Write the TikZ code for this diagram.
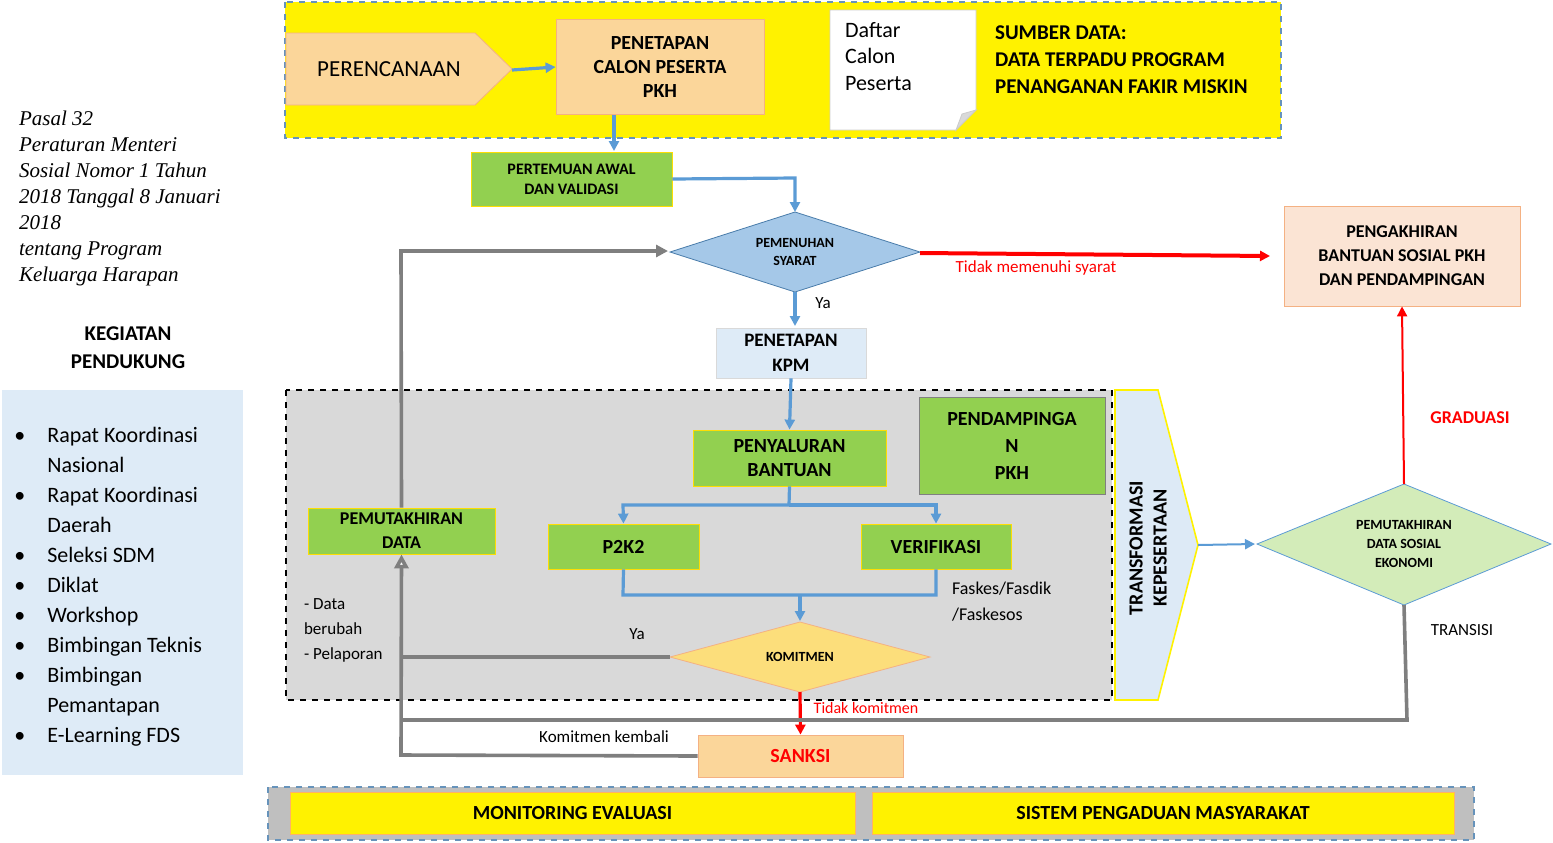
\documentclass[tikz,border=0pt]{standalone}
\usepackage{fontspec}
\setmainfont{Carlito}
\newfontfamily\serifit{Liberation Serif}
\usetikzlibrary{arrows.meta,shapes.geometric}
\definecolor{grn}{HTML}{92D050}
\definecolor{org}{HTML}{FBD69A}
\definecolor{orgb}{HTML}{F4B183}
\definecolor{lblue}{HTML}{DEEBF7}
\definecolor{arrb}{HTML}{5B9BD5}
\definecolor{gline}{HTML}{7F7F7F}
\begin{document}
\begin{tikzpicture}[x=0.5pt,y=-0.5pt,
  box/.style={draw,align=center,inner sep=1pt,font=\bfseries\fontsize{10}{12}\selectfont},
  gbox/.style={box,fill=grn,draw=yellow!80!orange},
  barr/.style={draw=arrb,line width=1.6pt,-{Triangle[length=5pt,width=5pt]}},
  gar/.style={draw=gline,line width=1.8pt},
  rar/.style={draw=red,line width=1.6pt,-{Triangle[length=5pt,width=5pt]}}]
\useasboundingbox (0,0) rectangle (1553,842);
% top panel
\draw[fill=yellow,draw=arrb!70!gray,dashed,line width=0.8pt] (285,2) rectangle (1281,138);
\draw[fill=org,draw=orgb] (286,33) -- (475,33) -- (512,69) -- (475,105) -- (286,105) -- cycle;
\node[font=\fontsize{11.5}{13}\selectfont] (plan) at (389,69) {PERENCANAAN};
\node[box,fill=org,draw=orgb,minimum width=104pt,minimum height=47.5pt] (calon) at (660,67) {PENETAPAN\\CALON PESERTA\\PKH};
\draw[barr] (512,70) -- (calon.west);
\draw[fill=white,draw=gray!40] (830,10) -- (976,10) -- (976,110) -- (956,130) -- (830,130) -- cycle;
\draw[fill=gray!30,draw=gray!40] (956,130) -- (962,114) -- (976,110) -- cycle;
\node[align=left,font=\fontsize{11}{13.3}\selectfont,anchor=north west] (daftar) at (838,15) {Daftar\\Calon\\Peserta};
\node[align=left,anchor=west,font=\bfseries\fontsize{10.5}{13.5}\selectfont] (sumber) at (988,60) {SUMBER DATA:\\DATA TERPADU PROGRAM\\PENANGANAN FAKIR MISKIN};
% pertemuan
\node[gbox,minimum width=100.5pt,minimum height=27pt,font=\bfseries\fontsize{8}{10}\selectfont] (pert) at (571.5,179) {PERTEMUAN AWAL\\DAN VALIDASI};
\draw[barr] (614,115) -- (614,151);
% diamond pemenuhan
\draw[fill=blue!35!cyan!30!white,fill=arrb!55!white,draw=arrb!80!black] (670,252) -- (795,212) -- (920,252) -- (795,292) -- cycle;
\node[font=\bfseries\fontsize{7}{9}\selectfont,align=center] (syarat) at (795,252) {PEMENUHAN\\SYARAT};
\draw[barr] (pert.east) -- (795,178) -- (795,212);
\node[box,fill=orgb!35!white,draw=orgb,font=\bfseries\fontsize{9}{12}\selectfont,minimum width=118pt,minimum height=50pt] (akhir) at (1402,256) {PENGAKHIRAN\\BANTUAN SOSIAL PKH\\DAN PENDAMPINGAN};
\draw[rar,line width=2pt] (920,253) -- (1270,256);
\node[red,font=\fontsize{8.5}{10}\selectfont] (tms) at (1036,268) {Tidak memenuhi syarat};
\node[box,fill=lblue,draw=gray!30,minimum width=75pt,minimum height=25pt,font=\bfseries\fontsize{9.5}{12.5}\selectfont] (kpm) at (791,353) {PENETAPAN\\KPM};
\draw[barr] (795,292) -- (795,326);
\node[font=\fontsize{8.5}{10}\selectfont] (ya1) at (823,303) {Ya};
% gray area
\draw[fill=gray!30,dashed,line width=1.2pt] (286,390) rectangle (1112,700);
\node[gbox,minimum width=96.5pt,minimum height=28pt] (salur) at (789.5,458) {PENYALURAN\\BANTUAN};
\draw[barr] (kpm.south) -- (salur.north);
\node[gbox,draw=gray,minimum width=93pt,minimum height=48.5pt,font=\fontsize{10}{13.5}\selectfont\bfseries] (damp) at (1012,445.5) {PENDAMPINGA\\N\\PKH};
\node[gbox,minimum width=75.5pt,minimum height=22.5pt] (p2k2) at (623.5,546.5) {P2K2};
\node[gbox,minimum width=75pt,minimum height=22.5pt] (verif) at (936,546.5) {VERIFIKASI};
\draw[draw=arrb,line width=1.6pt] (salur.south) -- (789,505);
\draw[barr] (789,505) -- (623,505) -- (p2k2.north);
\draw[barr] (789,505) -- (936,505) -- (verif.north);
\draw[draw=arrb,line width=1.6pt] (p2k2.south) -- (623,595) -- (936,595) -- (verif.south);
\draw[fill=yellow!50!orange!40!white,fill=org!80!yellow,draw=orgb] (670,657) -- (800,622) -- (930,657) -- (800,692) -- cycle;
\node[font=\bfseries\fontsize{7}{9}\selectfont] (komit) at (800,657) {KOMITMEN};
\draw[barr] (800,595) -- (800,621);
\node[align=left,anchor=north west,font=\fontsize{9}{13}\selectfont] (fask) at (945,575) {Faskes/Fasdik\\/Faskesos};
\node[gbox,minimum width=93.5pt,minimum height=23pt,font=\bfseries\fontsize{9}{12}\selectfont] (mutak) at (401.5,531) {PEMUTAKHIRAN\\DATA};
\node[align=left,anchor=north west,font=\fontsize{8.5}{12.5}\selectfont] (berubah) at (297,592) {- Data\\berubah\\- Pelaporan};
\node[font=\fontsize{8.5}{10}\selectfont] (ya2) at (637,634) {Ya};
% sanksi
\node[box,fill=org,draw=orgb,text=red,minimum width=102.5pt,minimum height=21pt] (sanksi) at (800.5,756) {SANKSI};
\draw[rar] (800,692) -- (sanksi.north);
\node[red,font=\fontsize{8}{10}\selectfont] (tk) at (866,708) {Tidak komitmen};
\node[font=\fontsize{8.5}{10}\selectfont] (kk) at (604,737) {Komitmen kembali};
% gray lines
\draw[gar] (670,657) -- (401,657);
\draw[gar,-{Triangle[length=7pt,width=7pt,open,fill=white]}] (sanksi.west) -- (401,755) -- (mutak.south);
\draw[gar,-{Triangle[length=6pt,width=6pt]}] (mutak.north) -- (401,251) -- (668,251);
% transformasi
\draw[fill=blue!10!cyan!10!white,fill=lblue!60!arrb!40!white,draw=yellow,line width=0.8pt] (1115,390) -- (1158,390) -- (1198,545) -- (1158,700) -- (1115,700) -- cycle;
\node[rotate=90,align=center,font=\bfseries\fontsize{10}{12}\selectfont] (trans) at (1148,548) {TRANSFORMASI\\KEPESERTAAN};
\draw[fill=green!40!gray!30!white,fill=grn!40!white,draw=arrb] (1257,544) -- (1404,484) -- (1551,544) -- (1404,605) -- cycle;
\node[font=\bfseries\fontsize{7}{9.7}\selectfont,align=center] (sosek) at (1404,544) {PEMUTAKHIRAN\\DATA SOSIAL\\EKONOMI};
\draw[draw=arrb,line width=1pt,-{Triangle[length=5pt,width=5pt]}] (1198,545) -- (1255,544);
\draw[draw=red,line width=1pt,-{Triangle[length=5pt,width=5pt]}] (1404,484) -- (akhir.south);
\node[red,font=\bfseries\fontsize{9}{10}\selectfont] (grad) at (1470,418) {GRADUASI};
\draw[gar] (1404,605) -- (1407,720) -- (401,720);
\node[font=\fontsize{8.5}{10}\selectfont] (tr) at (1462,630) {TRANSISI};
% left
\node[align=left,anchor=north west,font=\serifit\itshape\fontsize{10.5}{13}\selectfont] (pasal) at (12,104) {Pasal 32\\Peraturan Menteri\\Sosial Nomor 1 Tahun\\2018 Tanggal 8 Januari\\2018\\tentang Program\\Keluarga Harapan};
\node[align=center,font=\bfseries\fontsize{10.5}{14}\selectfont] (keg) at (128,348) {KEGIATAN\\PENDUKUNG};
\fill[lblue] (2,390) rectangle (243,775);
\node[align=left,anchor=north west,font=\fontsize{11}{15}\selectfont,inner sep=0pt] (list) at (14,421) {%
\begin{tabular}{@{}l@{\hspace{11pt}}l@{}}
\textbullet & Rapat Koordinasi\\ & Nasional\\
\textbullet & Rapat Koordinasi\\ & Daerah\\
\textbullet & Seleksi SDM\\
\textbullet & Diklat\\
\textbullet & Workshop\\
\textbullet & Bimbingan Teknis\\
\textbullet & Bimbingan\\ & Pemantapan\\
\textbullet & E-Learning FDS
\end{tabular}};
% bottom
\draw[fill=gray!50,draw=arrb!70!gray,dashed,line width=0.8pt] (268,787) rectangle (1474,840);
\node[box,fill=yellow,draw=orange!60,minimum width=282.5pt,minimum height=21pt] (monev) at (572.5,813) {MONITORING EVALUASI};
\node[box,fill=yellow,draw=orange!60,minimum width=291pt,minimum height=21pt] (sistem) at (1163,813) {SISTEM PENGADUAN MASYARAKAT};
\end{tikzpicture}
\end{document}
